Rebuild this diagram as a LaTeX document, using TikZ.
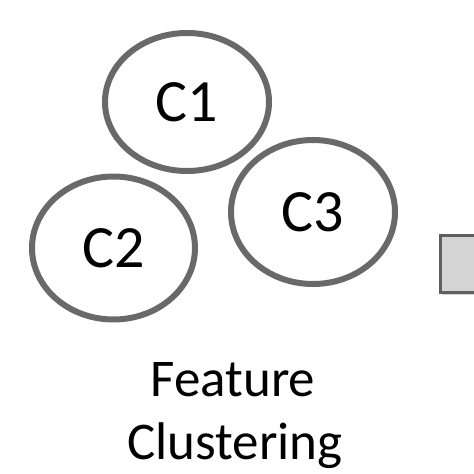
\documentclass[tikz,border=0pt]{standalone}
\usepackage{fontspec}
\setmainfont{Carlito}
\usetikzlibrary{shapes.geometric,shadows}
\definecolor{ringgray}{RGB}{105,105,105}
\definecolor{boxedge}{RGB}{95,95,95}
\definecolor{boxfill}{RGB}{212,212,212}
\tikzset{
  cluster/.style={ellipse, draw=ringgray, line width=6pt, inner sep=0pt,
    font=\fontsize{60}{60}\selectfont},
  caption/.style={anchor=base, font=\fontsize{53}{63}\selectfont},
  graybox/.style={draw=boxedge, line width=3pt, fill=boxfill, inner sep=0pt,
    drop shadow={shadow xshift=2pt, shadow yshift=-3pt, opacity=0.35}}
}
\begin{document}
\begin{tikzpicture}[x=1pt,y=-1pt]
\useasboundingbox (0,0) rectangle (474,474);
\clip (0,0) rectangle (474,474);
\node[cluster, minimum width=164pt, minimum height=138pt] (c1) at (187,102){C1};
\node[cluster, minimum width=163pt, minimum height=143pt] (c2) at (113.5,248){C2};
\node[cluster, minimum width=164pt, minimum height=144pt] (c3) at (313,212){C3};
\node[graybox, anchor=north west, minimum width=80pt, minimum height=57pt] (box) at (438.5,233.5){};
\node[caption] (feature) at (233,396){Feature};
\node[caption] (clustering) at (235,459){Clustering};

\end{tikzpicture}
\end{document}
